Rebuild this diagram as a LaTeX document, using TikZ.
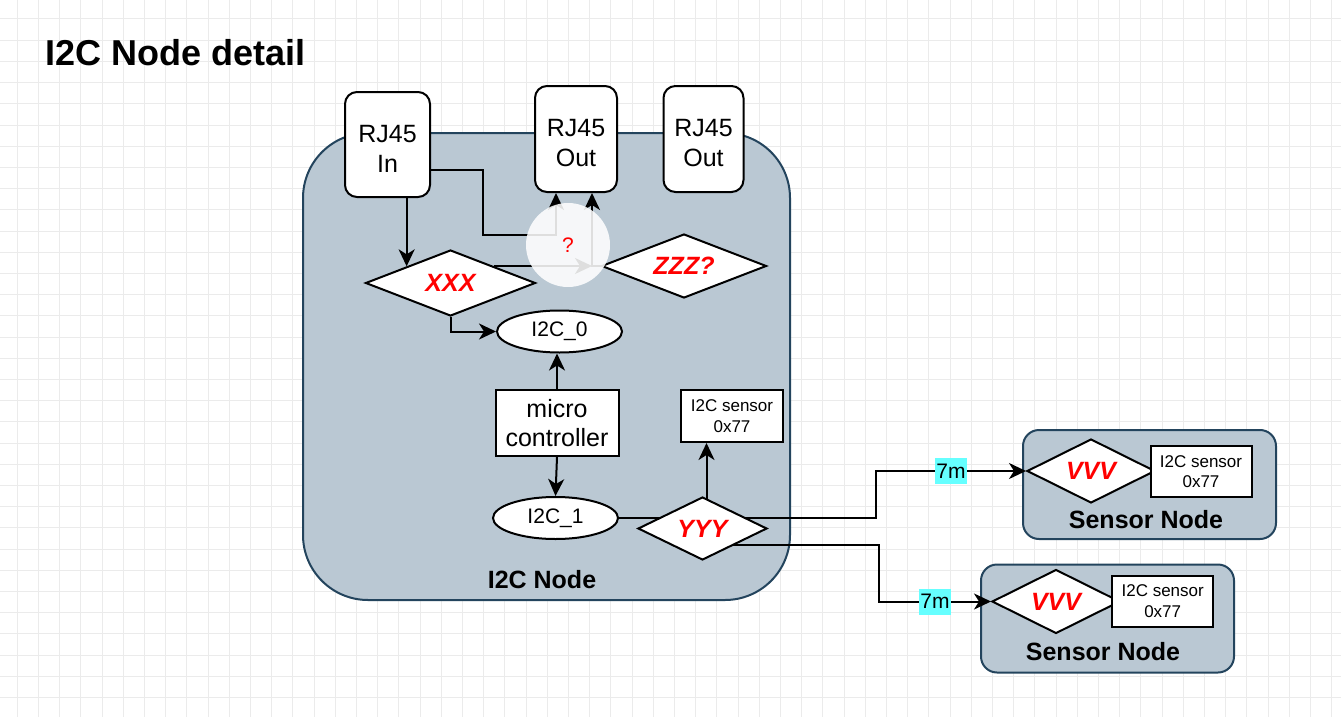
\documentclass[tikz,border=0pt]{standalone}
\usepackage{fontspec}
\setmainfont{Liberation Sans}
\usetikzlibrary{shapes.geometric,arrows.meta,calc}
\definecolor{contfill}{HTML}{BAC8D3}
\definecolor{contstroke}{HTML}{23445D}
\definecolor{gridc}{HTML}{EBEBEB}
\definecolor{labcyan}{HTML}{66FFFF}
\definecolor{txtred}{HTML}{FF0000}
\pgfdeclarelayer{gridl}
\pgfdeclarelayer{contl}
\pgfdeclarelayer{connl}
\pgfsetlayers{gridl,contl,connl,main}
\begin{document}
\begin{tikzpicture}[x=1pt,y=-1pt,
  box/.style={draw=black, line width=2pt, fill=white, inner sep=0pt, align=center},
  rjbox/.style={box, rounded corners=12pt, minimum width=82pt, minimum height=105pt, font=\fontsize{25}{30}\selectfont},
  sens/.style={box, minimum width=101pt, minimum height=51pt, font=\fontsize{17}{20.4}\selectfont},
  dia/.style={diamond, draw=black, line width=2pt, fill=white, inner sep=0pt, aspect=2.5, text=txtred, font=\fontsize{25}{30}\selectfont\bfseries\itshape},
  ell/.style={ellipse, draw=black, line width=2pt, fill=white, inner sep=0pt, minimum width=125pt, minimum height=42pt, font=\fontsize{21}{25}\selectfont},
  cont/.style={draw=contstroke, fill=contfill, line width=2pt, inner sep=0pt},
  contlbl/.style={inner sep=0pt, font=\fontsize{25}{30}\selectfont\bfseries},
  arr/.style={line width=2pt, -{Stealth[length=17pt,width=16pt,inset=5pt]}},
  ln/.style={line width=2pt},
  lbl/.style={fill=labcyan, inner xsep=1.5pt, inner ysep=0pt, minimum height=26pt, font=\fontsize{21}{25}\selectfont}
]
\useasboundingbox (0,0) rectangle (1341,717);
\begin{pgfonlayer}{gridl}
  \fill[white] (0,0) rectangle (1341,717);
  \foreach \i in {0,...,62} \draw[gridc, line width=1pt] ({17.3+21.2*\i},0) -- ({17.3+21.2*\i},717);
  \foreach \j in {0,...,33} \draw[gridc, line width=1pt] (0,{19+21.2*\j}) -- (1341,{19+21.2*\j});
\end{pgfonlayer}

\begin{pgfonlayer}{contl}
  \node[cont, rounded corners=65pt, minimum width=487pt, minimum height=467pt] (i2cnode) at (546.5,366.5) {};
  \node[cont, rounded corners=16pt, minimum width=253pt, minimum height=109pt] (sn1) at (1149.5,484.5) {};
  \node[cont, rounded corners=16pt, minimum width=253pt, minimum height=108pt] (sn2) at (1107.5,618.5) {};
\end{pgfonlayer}

\node[anchor=base west, inner sep=0pt, font=\fontsize{36}{40}\selectfont\bfseries] (title) at (45,66) {I2C Node detail};

\node[contlbl] (i2clbl) at (542,580) {I2C Node};
\node[contlbl] (sn1lbl) at (1146,519.5) {Sensor Node};
\node[contlbl] (sn2lbl) at (1103,651.5) {Sensor Node};

\node[rjbox, minimum width=85pt] (rjin) at (387.5,144.5) {\rule{0pt}{25pt}RJ45\\In};
\node[rjbox, minimum height=106pt] (out1) at (576,139) {\rule{0pt}{25pt}RJ45\\Out};
\node[rjbox, minimum width=80pt, minimum height=106pt] (out2) at (703.5,139) {\rule{0pt}{25pt}RJ45\\Out};

\node[dia, minimum width=170pt, minimum height=66pt] (xxx) at (450.5,283) {XXX};
\node[dia, minimum width=165pt, minimum height=64pt] (zzz) at (684,266) {ZZZ?};

\node[ell] (i2c0) at (559.5,331.5) {I2C\_0};
\node[box, minimum width=123pt, minimum height=66pt, font=\fontsize{25}{29}\selectfont] (mc) at (557,423) {micro\\controller};
\node[ell] (i2c1) at (555.5,518) {I2C\_1};
\node[dia, minimum width=129pt, minimum height=63pt] (yyy) at (702.5,528.5) {YYY};
\node[sens, minimum width=102pt, minimum height=52pt] (s0) at (732,416) {I2C sensor\\0x77};

\node[dia, minimum width=128pt, minimum height=64pt] (vvv1) at (1091,471) {VVV};
\node[sens] (s1) at (1201,471.5) {I2C sensor\\0x77};
\node[dia, minimum width=128pt, minimum height=64pt] (vvv2) at (1056,601.5) {VVV};
\node[sens] (s2) at (1162.7,601) {I2C sensor\\0x77};

\begin{pgfonlayer}{connl}
  \coordinate (inA) at ($(rjin.east)+(0,25.5)$);
  \coordinate (bend1) at (483,235);
  \coordinate (out1a) at ($(out1.south)+(-20,0)$);
  \coordinate (out1b) at ($(out1.south)+(16,0)$);
  \draw[arr] (inA) -| (bend1) -| (out1a);
  \coordinate (xxxin) at ($(xxx.north)!0.51!(xxx.west)$);
  \draw[arr] (rjin.south -| xxxin) -- (xxxin);
  \coordinate (xxxout) at ($(xxx.north)!0.5!(xxx.east)$);
  \draw[arr] (xxxout) -- (xxxout -| out1b);
  \draw[arr] (zzz.west) -| (out1b);
  \draw[arr] (xxx.south) |- (i2c0.west);
  \draw[arr] (mc.north) -- (mc.north |- i2c0.south);
  \draw[arr] (mc.south) -- (i2c1.north);
  \draw[ln] (i2c1.east) -- (i2c1.east -| yyy.center);
  \coordinate (yup) at ($(yyy.north)+(4,6)$);
  \draw[arr] (yup) -- (yup |- s0.south);
  \coordinate (y1) at ($(yyy.center)+(0,-11)$);
  \coordinate (bend2) at (y1 -| 876,0);
  \draw[arr] (y1) -- (bend2) |- (vvv1.west) node[lbl, pos=0.75] (m1) {7m};
  \coordinate (y2) at ($(yyy.center)+(0,16)$);
  \coordinate (bend3) at (y2 -| 879,0);
  \draw[arr] (y2) -- (bend3) |- (vvv2.west) node[lbl, pos=0.75] (m2) {7m};
\end{pgfonlayer}

\node[circle, fill=white, fill opacity=0.87, text opacity=1, minimum size=84pt, inner sep=0pt, text=txtred, font=\fontsize{21}{25}\selectfont] (q) at (568,245) {?};
\end{tikzpicture}
\end{document}
